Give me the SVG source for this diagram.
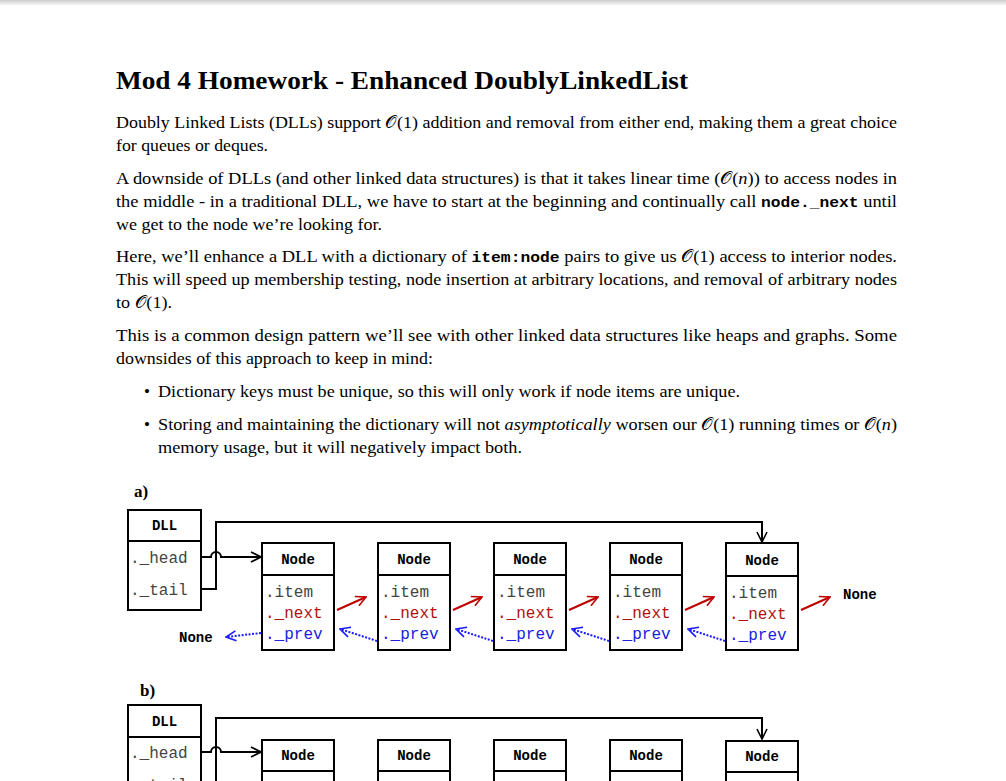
<svg xmlns="http://www.w3.org/2000/svg" width="1006" height="781" viewBox="0 0 1006 781">
<defs>
<linearGradient id="sh" x1="0" y1="0" x2="0" y2="1"><stop offset="0" stop-color="#ccc"/><stop offset="1" stop-color="#fff"/></linearGradient>
<marker id="ab" viewBox="0 0 12 12" refX="11" refY="6" markerWidth="12" markerHeight="12" markerUnits="userSpaceOnUse" orient="auto"><path d="M1,1 L11,6 L1,11" fill="none" stroke="#000" stroke-width="1.6"/></marker>
<marker id="ar" viewBox="0 0 12 12" refX="11" refY="6" markerWidth="12" markerHeight="12" markerUnits="userSpaceOnUse" orient="auto"><path d="M1,1 L11,6 L1,11" fill="none" stroke="#c00000" stroke-width="1.6"/></marker>
<marker id="au" viewBox="0 0 12 12" refX="11" refY="6" markerWidth="12" markerHeight="12" markerUnits="userSpaceOnUse" orient="auto"><path d="M1,1 L11,6 L1,11" fill="none" stroke="#1a1aff" stroke-width="1.6"/></marker>
</defs>
<style>
.p{font-family:"Liberation Serif",serif;font-size:17px;fill:#000}
.m{font-family:"Liberation Mono",monospace;font-size:15px}
.b{fill:#fff;stroke:#000;stroke-width:2}
.h{font-family:"Liberation Mono",monospace;font-size:14px;font-weight:bold;text-anchor:middle}
.f{font-family:"Liberation Mono",monospace;font-size:16px;fill:#444}
.r{fill:#b01010}.u{fill:#2020e0}
.bl{stroke:#000;stroke-width:2;fill:none}
.rl{stroke:#c00000;stroke-width:2;fill:none}
.ul{stroke:#1a1aff;stroke-width:2;fill:none;stroke-dasharray:2 1.5}
.n{font-family:"Liberation Mono",monospace;font-size:14px;font-weight:bold}
</style>
<rect width="1006" height="781" fill="#fff"/>
<rect width="1006" height="6" fill="url(#sh)"/>
<text x="116" y="89" font-family="Liberation Serif,serif" font-size="25" font-weight="bold" textLength="572" lengthAdjust="spacingAndGlyphs">Mod 4 Homework - Enhanced DoublyLinkedList</text>
<g class="p">
<text x="116" y="128" textLength="781" lengthAdjust="spacingAndGlyphs">Doubly Linked Lists (DLLs) support 𝒪(1) addition and removal from either end, making them a great choice</text>
<text x="116" y="151" textLength="152" lengthAdjust="spacingAndGlyphs">for queues or deques.</text>
<text x="116" y="184" textLength="781" lengthAdjust="spacingAndGlyphs">A downside of DLLs (and other linked data structures) is that it takes linear time (𝒪(<tspan font-style="italic">n</tspan>)) to access nodes in</text>
<text x="116" y="207" textLength="781" lengthAdjust="spacingAndGlyphs">the middle - in a traditional DLL, we have to start at the beginning and continually call <tspan class="m" font-size="14" font-weight="bold">node._next</tspan> until</text>
<text x="116" y="230" textLength="266" lengthAdjust="spacingAndGlyphs">we get to the node we’re looking for.</text>
<text x="116" y="262" textLength="781" lengthAdjust="spacingAndGlyphs">Here, we’ll enhance a DLL with a dictionary of <tspan class="m" font-size="14" font-weight="bold">item:node</tspan> pairs to give us 𝒪(1) access to interior nodes.</text>
<text x="116" y="285" textLength="781" lengthAdjust="spacingAndGlyphs">This will speed up membership testing, node insertion at arbitrary locations, and removal of arbitrary nodes</text>
<text x="116" y="308" textLength="56" lengthAdjust="spacingAndGlyphs">to 𝒪(1).</text>
<text x="116" y="341" textLength="781" lengthAdjust="spacingAndGlyphs">This is a common design pattern we’ll see with other linked data structures like heaps and graphs. Some</text>
<text x="116" y="364" textLength="317" lengthAdjust="spacingAndGlyphs">downsides of this approach to keep in mind:</text>
<text x="144" y="397">•</text><text x="158" y="397" textLength="582" lengthAdjust="spacingAndGlyphs">Dictionary keys must be unique, so this will only work if node items are unique.</text>
<text x="144" y="430">•</text><text x="158" y="430" textLength="739" lengthAdjust="spacingAndGlyphs">Storing and maintaining the dictionary will not <tspan font-style="italic">asymptotically</tspan> worsen our 𝒪(1) running times or 𝒪(<tspan font-style="italic">n</tspan>)</text>
<text x="158" y="453" textLength="364" lengthAdjust="spacingAndGlyphs">memory usage, but it will negatively impact both.</text>
<text x="134" y="497" font-weight="bold">a)</text>
<text x="140" y="696" font-weight="bold">b)</text>
</g>
<g id="dllA"><rect class="b" x="128" y="510" width="73" height="100"/><line class="bl" x1="128" y1="541" x2="201" y2="541"/><text class="h" x="164.5" y="530">DLL</text><text class="f" x="130" y="563">._head</text><text class="f" x="130" y="595">._tail</text></g>
<g id="nA1"><rect class="b" x="262" y="543" width="72" height="107"/><line class="bl" x1="262" y1="575" x2="334" y2="575"/><text class="h" x="298" y="564">Node</text><text class="f" x="265" y="597">.item</text><text class="f r" x="265" y="618">._next</text><text class="f u" x="265" y="639">._prev</text></g>
<g id="nA2"><rect class="b" x="378" y="543" width="72" height="107"/><line class="bl" x1="378" y1="575" x2="450" y2="575"/><text class="h" x="414" y="564">Node</text><text class="f" x="381" y="597">.item</text><text class="f r" x="381" y="618">._next</text><text class="f u" x="381" y="639">._prev</text></g>
<g id="nA3"><rect class="b" x="494" y="543" width="72" height="107"/><line class="bl" x1="494" y1="575" x2="566" y2="575"/><text class="h" x="530" y="564">Node</text><text class="f" x="497" y="597">.item</text><text class="f r" x="497" y="618">._next</text><text class="f u" x="497" y="639">._prev</text></g>
<g id="nA4"><rect class="b" x="610" y="543" width="72" height="107"/><line class="bl" x1="610" y1="575" x2="682" y2="575"/><text class="h" x="646" y="564">Node</text><text class="f" x="613" y="597">.item</text><text class="f r" x="613" y="618">._next</text><text class="f u" x="613" y="639">._prev</text></g>
<g id="nA5"><rect class="b" x="726" y="543" width="72" height="107"/><line class="bl" x1="726" y1="576" x2="798" y2="576"/><text class="h" x="762" y="565">Node</text><text class="f" x="729" y="598">.item</text><text class="f r" x="729" y="619">._next</text><text class="f u" x="729" y="640">._prev</text></g>
<text class="n" x="179" y="642">None</text>
<text class="n" x="843" y="599">None</text>
<g id="dllB"><rect class="b" x="128" y="705" width="73" height="90"/><line class="bl" x1="128" y1="737" x2="201" y2="737"/><text class="h" x="164.5" y="726">DLL</text><text class="f" x="130" y="758">._head</text><text class="f" x="130" y="790">._tail</text></g>
<g id="nB1"><rect class="b" x="262" y="740" width="72" height="60"/><line class="bl" x1="262" y1="771" x2="334" y2="771"/><text class="h" x="298" y="760">Node</text></g>
<g id="nB2"><rect class="b" x="378" y="740" width="72" height="60"/><line class="bl" x1="378" y1="771" x2="450" y2="771"/><text class="h" x="414" y="760">Node</text></g>
<g id="nB3"><rect class="b" x="494" y="740" width="72" height="60"/><line class="bl" x1="494" y1="771" x2="566" y2="771"/><text class="h" x="530" y="760">Node</text></g>
<g id="nB4"><rect class="b" x="610" y="740" width="72" height="60"/><line class="bl" x1="610" y1="771" x2="682" y2="771"/><text class="h" x="646" y="760">Node</text></g>
<g id="nB5"><rect class="b" x="726" y="741" width="72" height="60"/><line class="bl" x1="726" y1="772" x2="798" y2="772"/><text class="h" x="762" y="761">Node</text></g>
<g id="connectors">
<path class="bl" d="M201,589 H216 V522 H762 V542" marker-end="url(#ab)"/>
<path class="bl" d="M201,557 H211 A5,5 0 0 1 221,557 H261" marker-end="url(#ab)"/>
<path class="rl" d="M337,610 L366,597" marker-end="url(#ar)"/>
<path class="rl" d="M453,610 L482,597" marker-end="url(#ar)"/>
<path class="rl" d="M569,610 L598,597" marker-end="url(#ar)"/>
<path class="rl" d="M685,610 L714,597" marker-end="url(#ar)"/>
<path class="rl" d="M801,610 L830,597" marker-end="url(#ar)"/>
<path class="ul" d="M261,633 L226,637" marker-end="url(#au)"/>
<path class="ul" d="M377,641 L340,629" marker-end="url(#au)"/>
<path class="ul" d="M493,641 L456,629" marker-end="url(#au)"/>
<path class="ul" d="M609,641 L572,629" marker-end="url(#au)"/>
<path class="ul" d="M725,641 L688,629" marker-end="url(#au)"/>
<path class="bl" d="M201,785 H216 V718 H762 V739" marker-end="url(#ab)"/>
<path class="bl" d="M201,752 H211 A5,5 0 0 1 221,752 H261" marker-end="url(#ab)"/>
</g>
</svg>
